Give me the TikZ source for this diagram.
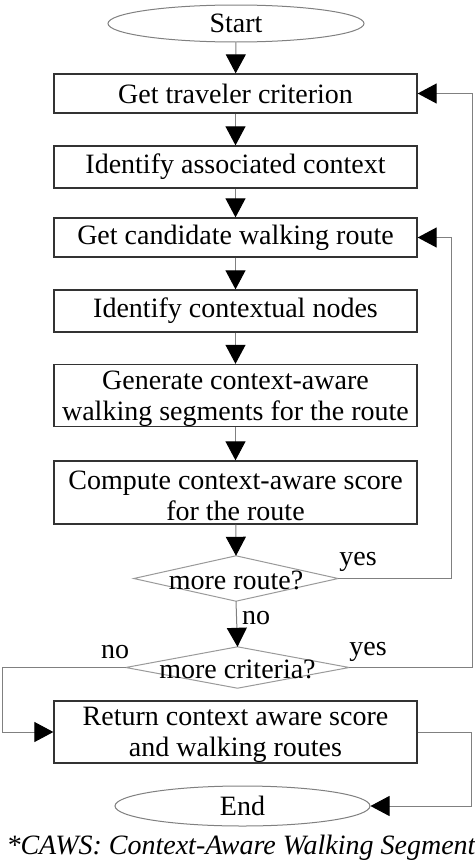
\documentclass[tikz,border=0pt]{standalone}
\usepackage{fontspec}
\setmainfont{Liberation Serif}
\usetikzlibrary{shapes.geometric,arrows.meta}
\definecolor{boxline}{HTML}{333333}
\definecolor{conn}{HTML}{808080}
\definecolor{dline}{HTML}{9A9A9A}
\newcommand{\lowstrut}{\rule{0pt}{25pt}}
\begin{document}
\begin{tikzpicture}[x=1pt,y=-1pt,
  every node/.style={font=\fontsize{28}{31}\selectfont},
  procbox/.style={draw=boxline,line width=1.3pt,rectangle,minimum width=363pt,inner sep=0pt,align=center,fill=white},
  term/.style={draw=conn,line width=1pt,ellipse,inner sep=0pt},
  dec/.style={rectangle,inner sep=0pt},
  flow/.style={draw=conn,line width=1pt,-{Triangle[length=19pt,width=20pt,fill=black,color=black]}},
  lab/.style={inner sep=0pt}]
\useasboundingbox (0,0) rectangle (474,862);
\fill[white] (0,0) rectangle (474,862);
\node[term,minimum width=256pt,minimum height=37pt] (start) at (236,23.5) {Start};
\node[procbox,minimum height=39pt] (b1) at (235.5,93.5) {Get traveler criterion};
\node[procbox,minimum height=42pt] (b2) at (235.5,167) {Identify associated context};
\node[procbox,minimum height=39pt] (b3) at (235.5,237.5) {Get candidate walking route};
\node[procbox,minimum height=42pt] (b4) at (235.5,311) {Identify contextual nodes};
\node[procbox,minimum height=57pt] (b5) at (235.5,395.5) {\lowstrut Generate context-aware\\walking segments for the route};
\node[procbox,minimum height=63pt] (b6) at (235.5,492.5) {\lowstrut Compute context-aware score\\for the route};
\node[dec,minimum width=204pt,minimum height=45pt] (d1) at (236,578.5) {};
\node[dec,minimum width=223pt,minimum height=41pt] (d2) at (237.5,667.5) {};
\draw[draw=dline,line width=1pt] (d1.north) -- (d1.east) -- (d1.south) -- (d1.west) -- cycle;
\draw[draw=dline,line width=1pt] (d2.north) -- (d2.east) -- (d2.south) -- (d2.west) -- cycle;
\node[lab] (t1) at (236,580) {more route?};
\node[lab] (t2) at (237.5,669) {more criteria?};
\node[procbox,minimum height=62pt] (b7) at (235.5,732) {\lowstrut Return context aware score\\and walking routes};
\node[term,minimum width=255pt,minimum height=40pt] (end) at (242.5,806) {End};
\node[lab] (yes1) at (358,562) {yes};
\node[lab] (no1) at (256,618) {no};
\node[lab] (no2) at (115,652) {no};
\node[lab] (yes2) at (368,652) {yes};
\node[lab,font=\fontsize{28}{31}\selectfont\itshape] (cap) at (241,848) {*CAWS: Context-Aware Walking Segment};
\coordinate (r1) at (451,578.5);
\coordinate (r2) at (472,667.5);
\coordinate (l2) at (2,667.5);
\coordinate (r3) at (471,732);
\draw[flow] (start) -- (b1);
\draw[flow] (b1) -- (b2);
\draw[flow] (b2) -- (b3);
\draw[flow] (b3) -- (b4);
\draw[flow] (b4) -- (b5);
\draw[flow] (b5) -- (b6);
\draw[flow] (b6) -- (d1.north);
\draw[flow] (d1.south) -- (d2.north);
\draw[flow] (d1.east) -- (r1) |- (b3.east);
\draw[flow] (d2.east) -- (r2) |- (b1.east);
\draw[flow] (d2.west) -- (l2) |- (b7.west);
\draw[flow] (b7.east) -- (r3) |- (end.east);
\end{tikzpicture}
\end{document}
